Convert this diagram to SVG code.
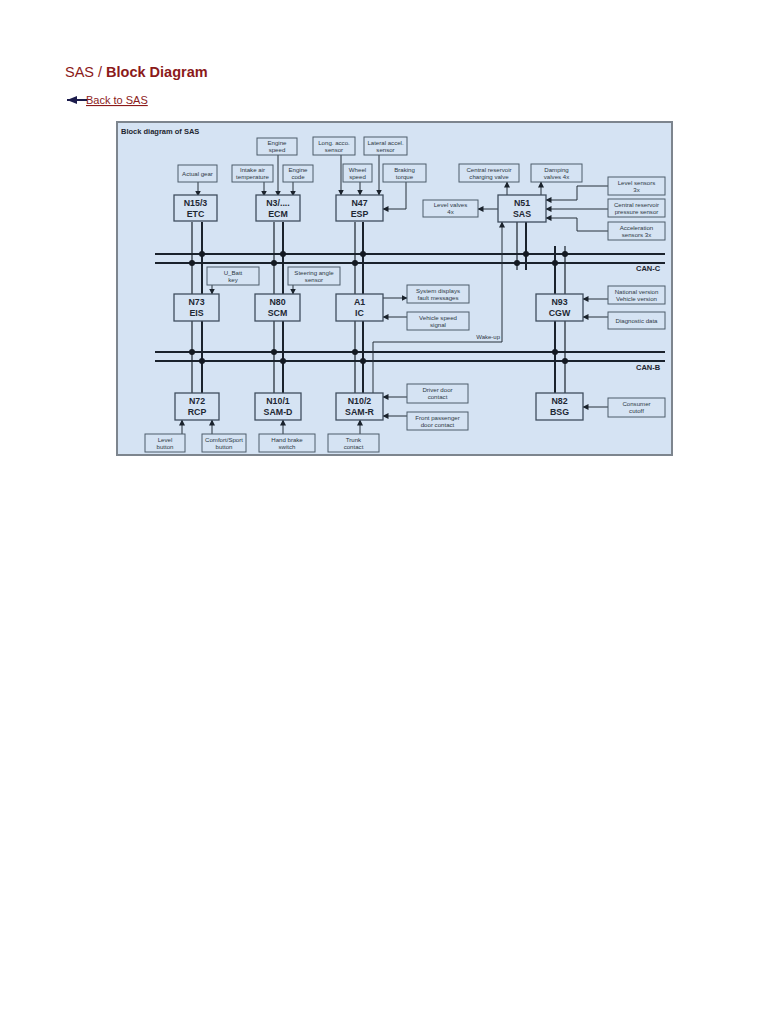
<svg xmlns="http://www.w3.org/2000/svg" width="768" height="1024" viewBox="0 0 768 1024">
<style>
.hdr{font-family:"Liberation Sans",Arial,sans-serif;font-size:14.5px;fill:#8b1a1a}
.lnk{font-family:"Liberation Sans",Arial,sans-serif;font-size:11px;fill:#8b1a1a;text-decoration:underline}
.frame{fill:#d5e3f3;stroke:#7d858e;stroke-width:2}
.title{font-family:"Liberation Sans",Arial,sans-serif;font-size:7.5px;font-weight:bold;fill:#1e2630}
.mod rect{fill:#d5e3f3;stroke:#3f4e5e;stroke-width:1.3}
.mod text{font-family:"Liberation Sans",Arial,sans-serif;font-size:8.8px;font-weight:bold;fill:#1e2833;text-anchor:middle}
.sb rect{fill:#d5e3f3;stroke:#4d5c6b;stroke-width:1}
.sb text{font-family:"Liberation Sans",Arial,sans-serif;font-size:6.1px;fill:#2e3945;text-anchor:middle}
.bus{stroke:#1a222c;stroke-width:2;fill:none}
.vt{stroke:#1a222c;stroke-width:1.2;fill:none}
.vT{stroke:#1a222c;stroke-width:2;fill:none}
.dot{fill:#141a22}
.ar{stroke:#26303b;stroke-width:1;fill:none;marker-end:url(#ah)}
.can{font-family:"Liberation Sans",Arial,sans-serif;font-size:7.5px;font-weight:bold;fill:#1e2630}
.wk{font-family:"Liberation Sans",Arial,sans-serif;font-size:6px;fill:#2e3945;text-anchor:end}
</style>
<defs>
<marker id="ah" markerUnits="userSpaceOnUse" markerWidth="6" markerHeight="6" refX="5.5" refY="3" orient="auto">
<path d="M0,0 L6,3 L0,6 z" fill="#1a222c"/>
</marker>
<marker id="bk" markerUnits="userSpaceOnUse" markerWidth="10" markerHeight="8" refX="0" refY="4" orient="auto">
<path d="M10,0 L0,4 L10,8 z" fill="#1c1c4c"/>
</marker>
</defs>
<rect width="768" height="1024" fill="#ffffff"/>

<g id="header">
<text class="hdr" x="65" y="77">SAS / <tspan font-weight="bold">Block Diagram</tspan></text>
<line x1="67" y1="100" x2="87" y2="100" stroke="#1c1c4c" stroke-width="2" marker-start="url(#bk)"/>
<text class="lnk" x="86" y="104">Back to SAS</text>
</g>

<rect class="frame" x="117" y="122" width="555" height="333"/>
<text class="title" x="121" y="134">Block diagram of SAS</text>

<g id="buses">
<line class="bus" x1="155" y1="254" x2="665" y2="254"/>
<line class="bus" x1="155" y1="263" x2="665" y2="263"/>
<line class="bus" x1="155" y1="352" x2="665" y2="352"/>
<line class="bus" x1="155" y1="361" x2="665" y2="361"/>
<text class="can" x="636" y="271">CAN-C</text>
<text class="can" x="636" y="370">CAN-B</text>
</g>

<g id="bus-taps">
<line class="vt" x1="192" y1="222" x2="192" y2="393"/>
<line class="vT" x1="202" y1="222" x2="202" y2="393"/>
<line class="vt" x1="274" y1="222" x2="274" y2="393"/>
<line class="vT" x1="283" y1="222" x2="283" y2="393"/>
<line class="vt" x1="355" y1="222" x2="355" y2="393"/>
<line class="vT" x1="363" y1="222" x2="363" y2="393"/>
<line class="vt" x1="517" y1="222" x2="517" y2="270"/>
<line class="vT" x1="526" y1="222" x2="526" y2="270"/>
<line class="vT" x1="555" y1="246" x2="555" y2="393"/>
<line class="vt" x1="565" y1="246" x2="565" y2="393"/>
<circle class="dot" cx="202" cy="254" r="3"/>
<circle class="dot" cx="192" cy="263" r="3"/>
<circle class="dot" cx="283" cy="254" r="3"/>
<circle class="dot" cx="274" cy="263" r="3"/>
<circle class="dot" cx="363" cy="254" r="3"/>
<circle class="dot" cx="355" cy="263" r="3"/>
<circle class="dot" cx="526" cy="254" r="3"/>
<circle class="dot" cx="517" cy="263" r="3"/>
<circle class="dot" cx="565" cy="254" r="3"/>
<circle class="dot" cx="555" cy="263" r="3"/>
<circle class="dot" cx="192" cy="352" r="3"/>
<circle class="dot" cx="202" cy="361" r="3"/>
<circle class="dot" cx="274" cy="352" r="3"/>
<circle class="dot" cx="283" cy="361" r="3"/>
<circle class="dot" cx="355" cy="352" r="3"/>
<circle class="dot" cx="363" cy="361" r="3"/>
<circle class="dot" cx="555" cy="352" r="3"/>
<circle class="dot" cx="565" cy="361" r="3"/>
</g>

<g id="connectors">
<path class="ar" d="M198,182 V196"/>
<path class="ar" d="M264,182 V196"/>
<path class="ar" d="M278,155 V196"/>
<path class="ar" d="M293,182 V196"/>
<path class="ar" d="M341,155 V195"/>
<path class="ar" d="M360,182 V195"/>
<path class="ar" d="M379,155 V195"/>
<path class="ar" d="M406,182 V209 H383"/>
<path class="ar" d="M507,195 V182"/>
<path class="ar" d="M541,195 V182"/>
<path class="ar" d="M498,209 H478"/>
<path class="ar" d="M608,186 H577 V200 H546"/>
<path class="ar" d="M608,209 H546"/>
<path class="ar" d="M608,231 H577 V218 H546"/>
<path class="ar" d="M212,285 V294"/>
<path class="ar" d="M293,285 V294"/>
<path class="ar" d="M383,298 H407"/>
<path class="ar" d="M407,317 H383"/>
<path class="ar" d="M608,299 H583"/>
<path class="ar" d="M608,317 H583"/>
<path class="ar" d="M373,393 V342 H502 V222"/>
<path class="ar" d="M407,397 H383"/>
<path class="ar" d="M407,416 H383"/>
<path class="ar" d="M360,434 V420"/>
<path class="ar" d="M608,407 H583"/>
<path class="ar" d="M182,434 V420"/>
<path class="ar" d="M212,434 V420"/>
<path class="ar" d="M283,434 V420"/>
<text class="wk" x="500" y="339">Wake-up</text>
</g>

<g id="N15-3" class="mod"><rect x="174" y="195" width="43" height="26"/><text x="195.5" y="206">N15/3</text><text x="195.5" y="216.5">ETC</text></g>
<g id="N3" class="mod"><rect x="256" y="195" width="44" height="26"/><text x="278" y="206">N3/....</text><text x="278" y="216.5">ECM</text></g>
<g id="N47" class="mod"><rect x="336" y="195" width="47" height="26"/><text x="359.5" y="206">N47</text><text x="359.5" y="216.5">ESP</text></g>
<g id="N51" class="mod"><rect x="498" y="195" width="48" height="27"/><text x="522" y="206">N51</text><text x="522" y="216.5">SAS</text></g>
<g id="N73" class="mod"><rect x="174" y="294" width="45" height="27"/><text x="196.5" y="305">N73</text><text x="196.5" y="315.5">EIS</text></g>
<g id="N80" class="mod"><rect x="255" y="294" width="45" height="27"/><text x="277.5" y="305">N80</text><text x="277.5" y="315.5">SCM</text></g>
<g id="A1" class="mod"><rect x="336" y="294" width="47" height="27"/><text x="359.5" y="305">A1</text><text x="359.5" y="315.5">IC</text></g>
<g id="N93" class="mod"><rect x="536" y="294" width="47" height="27"/><text x="559.5" y="305">N93</text><text x="559.5" y="315.5">CGW</text></g>
<g id="N72" class="mod"><rect x="175" y="393" width="44" height="27"/><text x="197" y="404">N72</text><text x="197" y="414.5">RCP</text></g>
<g id="N10-1" class="mod"><rect x="255" y="393" width="46" height="27"/><text x="278" y="404">N10/1</text><text x="278" y="414.5">SAM-D</text></g>
<g id="N10-2" class="mod"><rect x="336" y="393" width="47" height="27"/><text x="359.5" y="404">N10/2</text><text x="359.5" y="414.5">SAM-R</text></g>
<g id="N82" class="mod"><rect x="536" y="393" width="47" height="27"/><text x="559.5" y="404">N82</text><text x="559.5" y="414.5">BSG</text></g>

<g id="actual-gear" class="sb"><rect x="178" y="165" width="39" height="17"/><text x="197.5" y="175.5">Actual gear</text></g>
<g id="engine-speed" class="sb"><rect x="257" y="138" width="40" height="17"/><text x="277" y="145">Engine</text><text x="277" y="152">speed</text></g>
<g id="intake-air" class="sb"><rect x="232" y="165" width="41" height="17"/><text x="252.5" y="172">Intake air</text><text x="252.5" y="179">temperature</text></g>
<g id="engine-code" class="sb"><rect x="283" y="165" width="30" height="17"/><text x="298" y="172">Engine</text><text x="298" y="179">code</text></g>
<g id="long-acc" class="sb"><rect x="313" y="137" width="42" height="18"/><text x="334" y="144.5">Long. acco.</text><text x="334" y="151.5">sensor</text></g>
<g id="lat-acc" class="sb"><rect x="364" y="137" width="43" height="18"/><text x="385.5" y="144.5">Lateral accel.</text><text x="385.5" y="151.5">sensor</text></g>
<g id="wheel-speed" class="sb"><rect x="343" y="164" width="29" height="18"/><text x="357.5" y="171.5">Wheel</text><text x="357.5" y="178.5">speed</text></g>
<g id="braking-torque" class="sb"><rect x="383" y="164" width="43" height="18"/><text x="404.5" y="171.5">Braking</text><text x="404.5" y="178.5">torque</text></g>
<g id="cr-valve" class="sb"><rect x="459" y="164" width="60" height="18"/><text x="489" y="171.5">Central reservoir</text><text x="489" y="178.5">charging valve</text></g>
<g id="damping" class="sb"><rect x="531" y="164" width="51" height="18"/><text x="556.5" y="171.5">Damping</text><text x="556.5" y="178.5">valves 4x</text></g>
<g id="level-valves" class="sb"><rect x="423" y="200" width="55" height="17"/><text x="450.5" y="207">Level valves</text><text x="450.5" y="214">4x</text></g>
<g id="level-sensors" class="sb"><rect x="608" y="177" width="57" height="18"/><text x="636.5" y="184.5">Level sensors</text><text x="636.5" y="191.5">3x</text></g>
<g id="cr-pressure" class="sb"><rect x="608" y="199" width="57" height="18"/><text x="636.5" y="206.5">Central reservoir</text><text x="636.5" y="213.5">pressure sensor</text></g>
<g id="accel-sensors" class="sb"><rect x="608" y="222" width="57" height="18"/><text x="636.5" y="229.5">Acceleration</text><text x="636.5" y="236.5">sensors 3x</text></g>
<g id="ubatt" class="sb"><rect x="207" y="267" width="52" height="18"/><text x="233" y="274.5">U_Batt</text><text x="233" y="281.5">key</text></g>
<g id="steering" class="sb"><rect x="288" y="267" width="52" height="18"/><text x="314" y="274.5">Steering angle</text><text x="314" y="281.5">sensor</text></g>
<g id="sys-displays" class="sb"><rect x="407" y="285" width="62" height="18"/><text x="438" y="292.5">System displays</text><text x="438" y="299.5">fault messages</text></g>
<g id="veh-speed" class="sb"><rect x="407" y="312" width="62" height="18"/><text x="438" y="319.5">Vehicle speed</text><text x="438" y="326.5">signal</text></g>
<g id="national" class="sb"><rect x="608" y="286" width="57" height="18"/><text x="636.5" y="293.5">National version</text><text x="636.5" y="300.5">Vehicle version</text></g>
<g id="diag" class="sb"><rect x="608" y="312" width="57" height="17"/><text x="636.5" y="322.5">Diagnostic data</text></g>
<g id="driver-door" class="sb"><rect x="407" y="384" width="61" height="19"/><text x="437.5" y="392">Driver door</text><text x="437.5" y="399">contact</text></g>
<g id="front-pass" class="sb"><rect x="407" y="412" width="61" height="18"/><text x="437.5" y="419.5">Front passenger</text><text x="437.5" y="426.5">door contact</text></g>
<g id="consumer" class="sb"><rect x="608" y="398" width="57" height="19"/><text x="636.5" y="406">Consumer</text><text x="636.5" y="413">cutoff</text></g>
<g id="level-button" class="sb"><rect x="145" y="434" width="40" height="18"/><text x="165" y="441.5">Level</text><text x="165" y="448.5">button</text></g>
<g id="comfort" class="sb"><rect x="202" y="434" width="44" height="18"/><text x="224" y="441.5">Comfort/Sport</text><text x="224" y="448.5">button</text></g>
<g id="handbrake" class="sb"><rect x="259" y="434" width="56" height="18"/><text x="287" y="441.5">Hand brake</text><text x="287" y="448.5">switch</text></g>
<g id="trunk" class="sb"><rect x="328" y="434" width="51" height="18"/><text x="353.5" y="441.5">Trunk</text><text x="353.5" y="448.5">contact</text></g>
</svg>
